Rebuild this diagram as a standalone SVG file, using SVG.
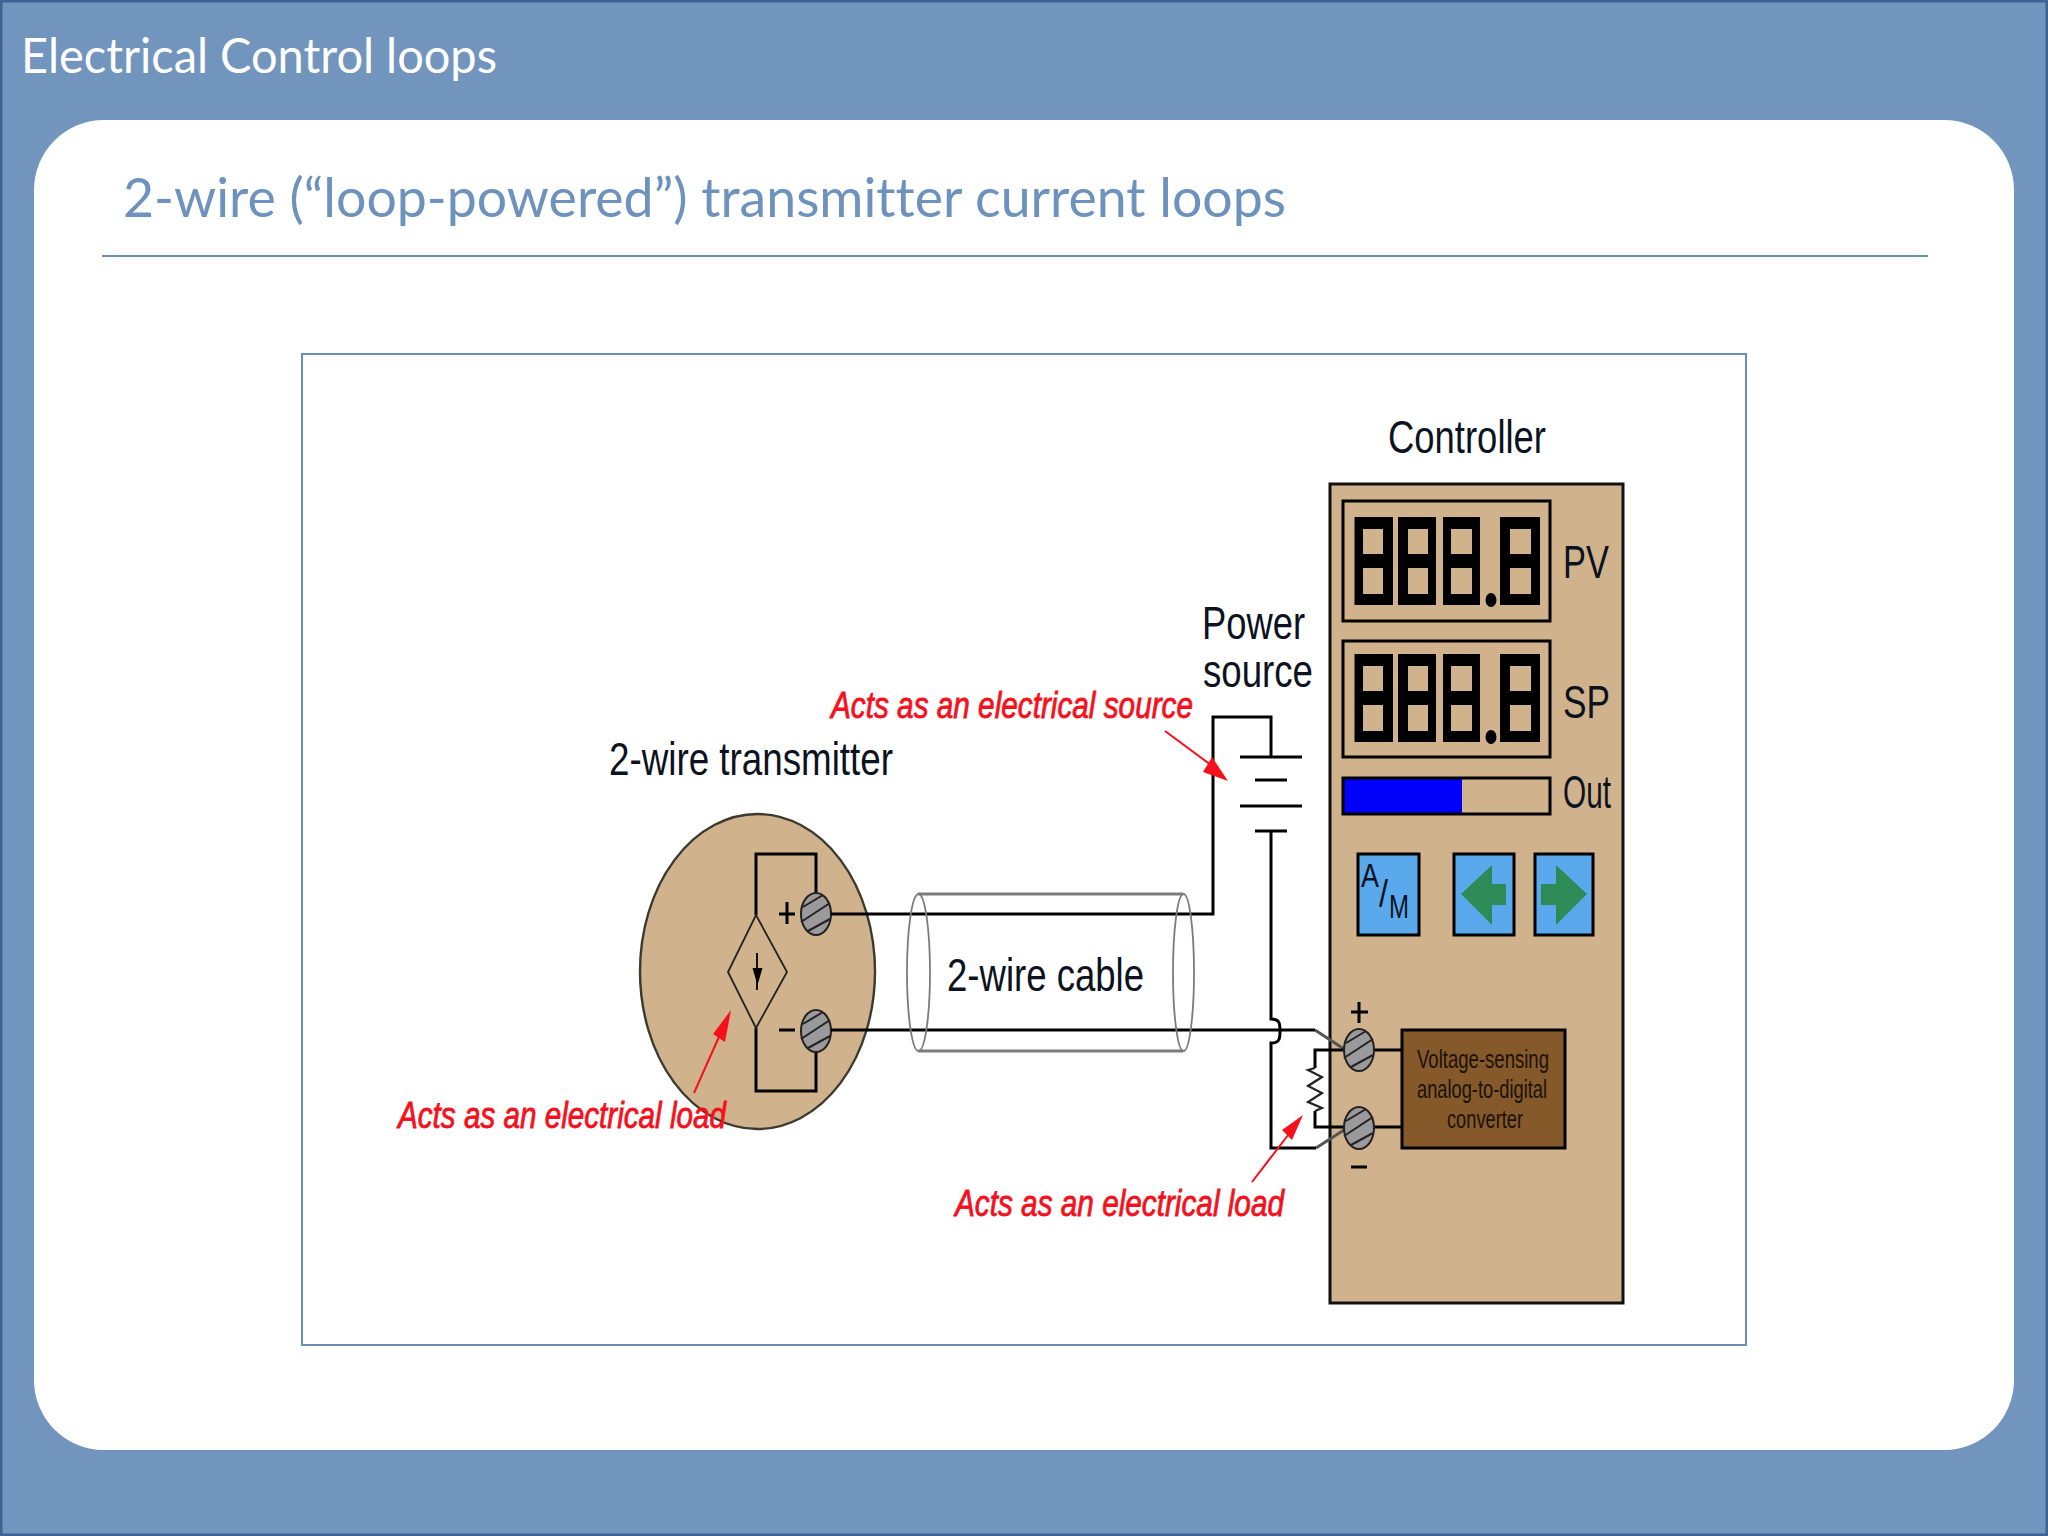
<svg xmlns="http://www.w3.org/2000/svg" width="2048" height="1536" viewBox="0 0 2048 1536">
<style>
.sans{font-family:"Liberation Sans",Arial,sans-serif;fill:#0c1220}
.lab{font-size:46px}
.red{font-family:"Liberation Sans",Arial,sans-serif;font-size:36px;font-style:italic;fill:#f5101c;stroke:#f5101c;stroke-width:.8}
.head{font-family:Lato,"Open Sans",sans-serif;font-variant-ligatures:none}
.w{fill:none;stroke:#000;stroke-width:3}
.z{fill:none;stroke:#222;stroke-width:2.2}
.g{fill:none;stroke:#555;stroke-width:3}
.ca{fill:none;stroke:#7c7c7c;stroke-width:1.8}
.box{fill:none;stroke:#000;stroke-width:3}
.dig{fill:#000}
.hole{fill:#d0b28c}
.tan{fill:#d0b28c;stroke:#111;stroke-width:3}
.el{fill:#d0b28c;stroke:#3b3a30;stroke-width:2.4}
.btn{fill:#5aa9ec;stroke:#000;stroke-width:3}
.arr{fill:#2e8b57}
.screw{fill:#9a9a9c;stroke:#222;stroke-width:2}
.hatch{stroke:#222;stroke-width:2;fill:none}
.ra{stroke:#f5101c;stroke-width:2;fill:none}
.rh{fill:#f5101c}
</style>
<defs>
<g id="digits">
<rect class="dig" x="1354.5" y="0" width="38.5" height="88"/><rect class="dig" x="1398" y="0" width="38" height="88"/><rect class="dig" x="1443" y="0" width="37" height="88"/><rect class="dig" x="1500" y="0" width="40" height="88"/>
<rect class="hole" x="1363" y="12" width="20" height="25"/><rect class="hole" x="1363" y="51" width="20" height="26"/>
<rect class="hole" x="1408" y="12" width="20" height="25"/><rect class="hole" x="1408" y="51" width="20" height="26"/>
<rect class="hole" x="1451" y="12" width="21" height="25"/><rect class="hole" x="1451" y="51" width="21" height="26"/>
<rect class="hole" x="1510" y="12" width="21" height="25"/><rect class="hole" x="1510" y="51" width="21" height="26"/>
<ellipse class="dig" cx="1491" cy="83" rx="5.5" ry="7"/>
</g>
<g id="screw">
<ellipse class="screw" cx="0" cy="0" rx="15" ry="21"/>
<path class="hatch" d="M-13 -7L7 -19M-15 8L14 -11M-8 17L14 5"/>
</g>
</defs>
<g id="slide">
<rect x="0" y="0" width="2048" height="1536" fill="#7295bd"/>
<rect x="1" y="1" width="2046" height="1534" fill="none" stroke="#3d6190" stroke-width="3"/>
<rect x="34" y="120" width="1980" height="1330" rx="70" ry="70" fill="#fff"/>
<text class="head" x="21" y="73" font-size="48" fill="#fff" textLength="476" lengthAdjust="spacingAndGlyphs">Electrical Control loops</text>
<text class="head" x="123" y="217" font-size="54" fill="#6d92bd" textLength="1163" lengthAdjust="spacingAndGlyphs">2-wire (“loop-powered”) transmitter current loops</text>
<line x1="102" y1="256" x2="1928" y2="256" stroke="#6a8fbb" stroke-width="2"/>
<rect x="302" y="354" width="1444" height="991" fill="#fff" stroke="#6a8fbb" stroke-width="2"/>
</g>
<g id="transmitter">
<ellipse class="el" cx="757.5" cy="971.5" rx="117.5" ry="157.5"/>
<path class="w" d="M756 915V854H816V893M756 1028V1091H816V1051"/>
<path d="M756 915L787 972L756 1028L728 972Z" fill="none" stroke="#222" stroke-width="1.8"/>
<path d="M757 953V990" stroke="#111" stroke-width="2"/>
<path d="M752.5 968H762.5L757.5 985Z" fill="#000"/>
<path class="w" d="M779 914H795M787 902V924M779 1030H795"/>
<use href="#screw" x="816" y="914"/>
<use href="#screw" x="816" y="1031"/>
</g>
<g id="battery">
<path class="w" d="M1240 757H1302M1255 780H1287M1240 806H1302M1255 831H1287"/>
</g>
<g id="controller">
<rect class="tan" x="1330" y="484" width="293" height="819"/>
<rect class="box" x="1343" y="501" width="207" height="120"/>
<use href="#digits" y="517"/>
<rect class="box" x="1343" y="641" width="207" height="116"/>
<use href="#digits" y="654"/>
<rect x="1343" y="778" width="119" height="36" fill="#0000fb"/>
<rect class="box" x="1343" y="778" width="207" height="36"/>
<rect class="btn" x="1358" y="854" width="61" height="81"/>
<text class="sans" x="1361" y="887" font-size="34" textLength="18" lengthAdjust="spacingAndGlyphs">A</text>
<text class="sans" x="1379" y="907" font-size="38" textLength="9" lengthAdjust="spacingAndGlyphs">/</text>
<text class="sans" x="1389" y="918" font-size="34" textLength="20" lengthAdjust="spacingAndGlyphs">M</text>
<rect class="btn" x="1454" y="854" width="60" height="81"/>
<path class="arr" d="M1461 894L1492 865V884H1506V905H1492V925Z"/>
<rect class="btn" x="1535" y="854" width="58" height="81"/>
<path class="arr" d="M1541 884H1556V865L1587 894L1556 925V905H1541Z"/>
<path class="w" d="M1351 1012H1368M1359 1002V1023M1351 1167H1367"/>
<g id="converter">
<rect x="1402" y="1030" width="163" height="118" fill="#85592a" stroke="#000" stroke-width="3"/>
<text class="sans" x="1417" y="1068" font-size="26" textLength="132" lengthAdjust="spacingAndGlyphs" style="fill:#1c1204">Voltage-sensing</text>
<text class="sans" x="1417" y="1098" font-size="26" textLength="130" lengthAdjust="spacingAndGlyphs" style="fill:#1c1204">analog-to-digital</text>
<text class="sans" x="1447" y="1128" font-size="26" textLength="76" lengthAdjust="spacingAndGlyphs" style="fill:#1c1204">converter</text>
</g>
</g>
<g id="connectors">
<path class="w" d="M831 914H1213V717H1271V757"/>
<path class="w" d="M831 1030H1315"/>
<path class="g" d="M1315 1030L1344 1049M1316 1148L1344 1130"/>
<path class="w" d="M1271 831V1019C1280 1019 1280 1024 1280 1031C1280 1038 1280 1043 1271 1043V1148H1316"/>
<path class="w" d="M1344 1050H1315V1068M1315 1111V1127H1344"/>
<path class="z" d="M1315 1068L1308 1070L1322 1077L1308 1086L1322 1093L1308 1102L1322 1108L1315 1111"/>
<path class="w" d="M1374 1050H1402M1374 1127H1402"/>
</g>
<g id="terminals">
<use href="#screw" x="1359" y="1050"/>
<use href="#screw" x="1359" y="1128"/>
</g>
<g id="cable">
<path class="ca" style="stroke-width:3" d="M918 894H1183M918 1051H1183"/>
<ellipse class="ca" cx="918.5" cy="972.5" rx="11.5" ry="78.5"/>
<ellipse class="ca" cx="1183.5" cy="972.5" rx="10.5" ry="78.5"/>
<text class="sans lab" x="947" y="991" textLength="197" lengthAdjust="spacingAndGlyphs">2-wire cable</text>
</g>
<g id="labels">
<text class="sans lab" x="1388" y="453" textLength="158" lengthAdjust="spacingAndGlyphs">Controller</text>
<text class="sans lab" x="1563" y="578" textLength="46" lengthAdjust="spacingAndGlyphs">PV</text>
<text class="sans lab" x="1563" y="718" textLength="47" lengthAdjust="spacingAndGlyphs">SP</text>
<text class="sans lab" x="1563" y="808" textLength="48" lengthAdjust="spacingAndGlyphs">Out</text>
<text class="sans lab" x="1202" y="639" textLength="103" lengthAdjust="spacingAndGlyphs">Power</text>
<text class="sans lab" x="1203" y="687" textLength="110" lengthAdjust="spacingAndGlyphs">source</text>
<text class="sans lab" x="609" y="775" textLength="284" lengthAdjust="spacingAndGlyphs">2-wire transmitter</text>
</g>
<g id="annotations">
<path class="ra" d="M1165 731L1215 768"/>
<path class="rh" d="M1228 781L1212 757L1203 772Z"/>
<text class="red" x="831" y="718" textLength="362" lengthAdjust="spacingAndGlyphs">Acts as an electrical source</text>
<path class="ra" d="M694 1093L722 1030"/>
<path class="rh" d="M731 1010L713 1034L725 1042Z"/>
<text class="red" x="398" y="1128" textLength="328" lengthAdjust="spacingAndGlyphs">Acts as an electrical load</text>
<path class="ra" d="M1252 1182L1292 1130"/>
<path class="rh" d="M1303 1115L1282 1130L1292 1140Z"/>
<text class="red" x="955" y="1216" textLength="329" lengthAdjust="spacingAndGlyphs">Acts as an electrical load</text>
</g>
</svg>
